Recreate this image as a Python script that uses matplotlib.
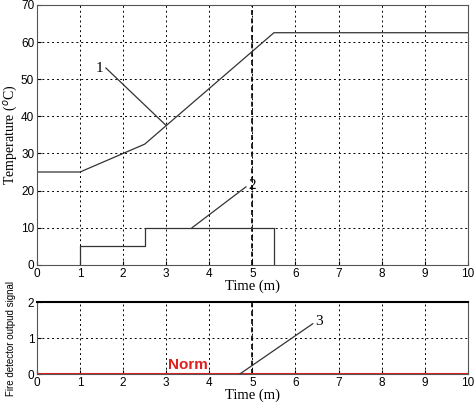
import matplotlib
matplotlib.use("Agg")
import matplotlib.pyplot as plt

t1 = [0, 1, 2, 2.5, 3, 4, 5, 5.5, 10]
temp1 = [25, 25, 30, 32.5, 37.5, 47.5, 57.5, 62.5, 62.5]
t2 = [1, 1, 2.5, 2.5, 5.5, 5.5]
temp2 = [0, 5, 5, 10, 10, 0]
t3 = [4.7, 6.4]
sig3 = [0, 1.4]
norm_t = [0, 10]
norm_v = [0, 0]

plt.rcParams['font.family'] = ['Liberation Serif', 'DejaVu Serif']
fig = plt.figure(figsize=(4.74, 4.05), dpi=100)
ax1 = fig.add_axes([0.078, 0.346, 0.909, 0.642])
ax2 = fig.add_axes([0.078, 0.076, 0.909, 0.178])

for ax in (ax1, ax2):
    ax.grid(True, linestyle=(0, (2, 3)), color='black', linewidth=0.7)
    ax.tick_params(direction='in', labelsize=8.5, length=3, pad=2, labelfontfamily='Liberation Sans')
    ax.set_xlim(0, 10)
    ax.set_xticks(range(11))
    for s in ax.spines.values():
        s.set_color('#555555')

ax1.axvline(5, color='black', linestyle=(0, (3, 2)), linewidth=1.2)
ax1.plot(t1, temp1, color='#333333', linewidth=0.9)
ax1.plot(t2, temp2, color='#333333', linewidth=0.9)
ax1.plot([1.6, 3.0], [53, 37.5], color='#333333', linewidth=0.9)
ax1.text(1.55, 53, '1', ha='right', va='center', fontsize=11)
ax1.plot([3.6, 4.85], [10, 21], color='#333333', linewidth=0.9)
ax1.text(4.9, 21.5, '2', ha='left', va='center', fontsize=11)
ax1.set_ylim(0, 70)
ax1.set_yticks(range(0, 71, 10))
ax1.set_xlabel('Time (m)', fontsize=10.5, labelpad=0)
ax1.set_ylabel('Temperature ($^o$C)', fontsize=10, labelpad=1)

ax2.axvline(5, color='black', linestyle=(0, (3, 2)), linewidth=1.2)
ax2.plot(norm_t, norm_v, color='#e02020', linewidth=1.5)
ax2.plot(t3, sig3, color='#333333', linewidth=0.9)
ax2.text(6.45, 1.45, '3', ha='left', va='center', fontsize=11)
ax2.text(3.05, 0.05, 'Norm', color='#e02020', fontsize=11, fontweight='bold',
         family='Liberation Sans', va='bottom')
ax2.set_ylim(0, 2)
ax2.set_yticks([0, 1, 2])
ax2.spines['top'].set_linewidth(1.5)
ax2.spines['top'].set_color('black')
ax2.set_xlabel('Time (m)', fontsize=10.5, labelpad=0)
ax2.set_ylabel('Fire detector outpud signal', fontsize=7, family='Liberation Sans', labelpad=8)

fig.savefig('out.png', dpi=100)
